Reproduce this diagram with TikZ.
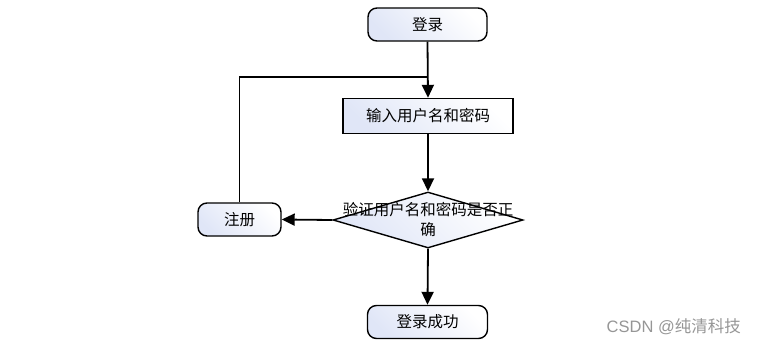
\documentclass[tikz,border=0pt]{standalone}
\usepackage{fontspec}
\setmainfont{Noto Sans CJK SC}
\newfontfamily\wmfont{Noto Sans CJK SC}
\newfontfamily\wmlatin{Liberation Sans}
\usetikzlibrary{shapes.geometric,arrows.meta}
\definecolor{boxfill}{RGB}{224,230,247}
\definecolor{wmgray}{RGB}{150,150,150}
\tikzset{
  boxshade/.style={left color=boxfill, right color=white, shading angle=135},
  termbox/.style={draw=black, line width=1.4pt, rounded corners=9pt, boxshade,
    minimum width=#1, minimum height=33pt, inner sep=0pt, font=\fontsize{15.5}{17}\selectfont},
  procbox/.style={draw=black, line width=1.4pt, boxshade,
    minimum width=170pt, minimum height=35pt, inner sep=0pt, font=\fontsize{15.5}{17}\selectfont},
  decbox/.style={draw=black, line width=1.4pt, diamond, aspect=3.39, boxshade,
    minimum width=190pt, minimum height=56pt, inner sep=0pt},
  flow/.style={line width=1.8pt, -{Triangle[width=12pt,length=13pt]}},
  plainline/.style={line width=1.6pt},
  lbl/.style={font=\fontsize{15.5}{20}\selectfont, align=center, inner sep=0pt}
}
\begin{document}
\begin{tikzpicture}[x=1pt,y=-1pt]
\useasboundingbox (0,0) rectangle (758,345);
\node[termbox=119pt] (login) at (427.5,24.5) {登录};
\node[procbox] (input) at (428,116) {输入用户名和密码};
\node[decbox] (check) at (428,220) {};
\node[lbl] (checktext) at (428,220) {验证用户名和密码是否正\\确};
\node[termbox=83pt] (reg) at (239.5,219.5) {注册};
\node[termbox=120pt] (ok) at (427.5,322) {登录成功};
\coordinate (join) at (428,77);
\draw[flow] (login.south) -- (input.north);
\draw[plainline] (reg.north) |- (join);
\draw[flow] (input.south) -- (check.north);
\draw[flow] (check.west) -- (reg.east);
\draw[flow] (check.south) -- (ok.north);
\node[font=\wmfont\fontsize{16.5}{18}\selectfont, text=wmgray, anchor=east, inner sep=0pt] (wm) at (741,327) {{\wmlatin CSDN @}纯清科技};
\end{tikzpicture}
\end{document}
